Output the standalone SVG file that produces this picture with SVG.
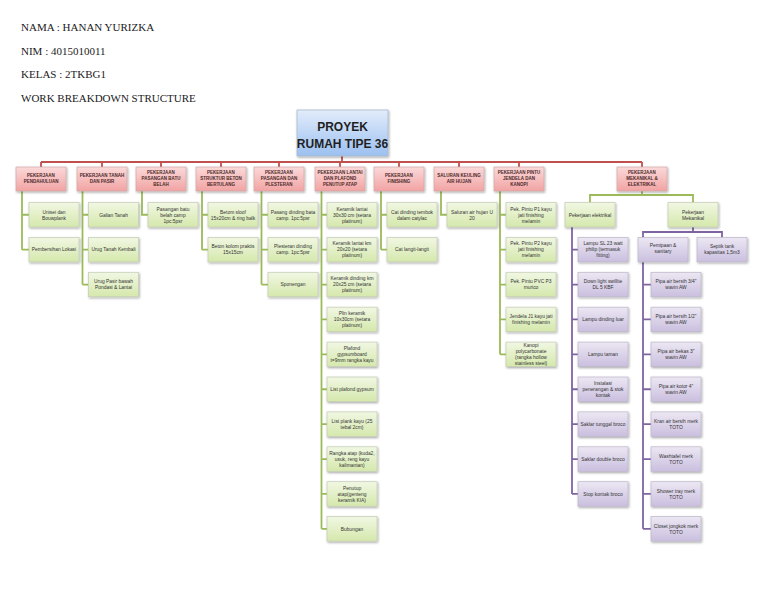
<svg xmlns="http://www.w3.org/2000/svg" width="768" height="594" viewBox="0 0 768 594">
<style>
.hd{font-family:"Liberation Serif","Times New Roman",serif;font-size:11px;fill:#1a1a1a}
.t{font-family:"Liberation Sans",Arial,sans-serif;font-size:4.9px;fill:#333;text-anchor:middle}
.pt{font-family:"Liberation Sans",Arial,sans-serif;font-size:4.5px;font-weight:bold;fill:#4a2a2a;text-anchor:middle}
.top{font-family:"Liberation Sans",Arial,sans-serif;font-size:12px;font-weight:bold;fill:#1f1f1f;text-anchor:middle}
.pk{fill:url(#gp);stroke:#cfa9a9;stroke-width:0.7;filter:url(#sh)}
.gr{fill:url(#gg);stroke:#c4ccb4;stroke-width:0.7;filter:url(#sh)}
.pu{fill:url(#gu);stroke:#bdb6c8;stroke-width:0.7;filter:url(#sh)}
.bl{fill:url(#gb);stroke:#a9b8cc;stroke-width:0.8;filter:url(#sh)}
.lr{fill:none;stroke:#c0504d;stroke-width:1.8}
.lg{fill:none;stroke:#9bbb59;stroke-width:1.8}
.lp{fill:none;stroke:#8064a2;stroke-width:1.8}
</style>
<defs>
<linearGradient id="gp" x1="0" y1="0" x2="0" y2="1"><stop offset="0" stop-color="#fbd9d9"/><stop offset="1" stop-color="#f2a3a3"/></linearGradient>
<linearGradient id="gg" x1="0" y1="0" x2="0" y2="1"><stop offset="0" stop-color="#f1f7e3"/><stop offset="1" stop-color="#d5e8ac"/></linearGradient>
<linearGradient id="gu" x1="0" y1="0" x2="0" y2="1"><stop offset="0" stop-color="#ece7f3"/><stop offset="1" stop-color="#cabfdf"/></linearGradient>
<linearGradient id="gb" x1="0" y1="0" x2="0" y2="1"><stop offset="0" stop-color="#e2ecfb"/><stop offset="1" stop-color="#9cc0f0"/></linearGradient>
<filter id="sh" x="-20%" y="-20%" width="140%" height="150%"><feDropShadow dx="0.8" dy="1.2" stdDeviation="0.8" flood-color="#000" flood-opacity="0.35"/></filter>
</defs>
<rect width="768" height="594" fill="#fff"/>
<g id="header">
<text class="hd" x="21" y="31">NAMA : HANAN YURIZKA</text>
<text class="hd" x="21" y="55">NIM : 4015010011</text>
<text class="hd" x="21" y="78">KELAS : 2TKBG1</text>
<text class="hd" x="21" y="102">WORK BREAKDOWN STRUCTURE</text>
</g>
<g id="connectors">
<path class="lr" d="M342 156V162M41 162H642M41 162V167M102 162V167M161 162V167M221 162V167M279 162V167M340 162V167M399 162V167M459 162V167M519 162V167M642 162V167"/>
<path class="lg" d="M22 191V249.65M22 214.75H29M22 249.65H29"/>
<path class="lg" d="M82.5 191V284.55M82.5 214.75H88.5M82.5 249.65H88.5M82.5 284.55H88.5"/>
<path class="lg" d="M142 191V214.75H148"/>
<path class="lg" d="M202 191V249.65M202 214.75H208M202 249.65H208"/>
<path class="lg" d="M261.5 191V284.55M261.5 214.75H268M261.5 249.65H268M261.5 284.55H268"/>
<path class="lg" d="M321.5 191V528.85M321.5 214.75H327M321.5 249.65H327M321.5 284.55H327M321.5 319.45H327M321.5 354.35H327M321.5 389.25H327M321.5 424.15H327M321.5 459.05H327M321.5 493.95H327M321.5 528.85H327"/>
<path class="lg" d="M381 191V249.65M381 214.75H387M381 249.65H387"/>
<path class="lg" d="M441 191V214.75H447"/>
<path class="lg" d="M500 191V354.35M500 214.75H506M500 249.65H506M500 284.55H506M500 319.45H506M500 354.35H506"/>
<path class="lg" d="M642 191V195M590 202.5V195H693V202.5"/>
<path class="lp" d="M572 227V493.95M572 249.65H578M572 284.55H578M572 319.45H578M572 354.35H578M572 389.25H578M572 424.15H578M572 459.05H578M572 493.95H578"/>
<path class="lp" d="M693 227V232M643 237.4V232H722V237.4"/>
<path class="lp" d="M643 262V528.85M643 284.55H651M643 319.45H651M643 354.35H651M643 389.25H651M643 424.15H651M643 459.05H651M643 493.95H651M643 528.85H651"/>
</g>
<g id="proyek"><rect class="bl" x="297" y="110" width="91" height="46"/><text class="top" x="342.5" y="130.5">PROYEK</text><text class="top" x="342.5" y="147.5">RUMAH TIPE 36</text></g>

<g id="l1-pendahuluan"><rect class="pk" x="16" y="167" width="50" height="24"/><text class="pt" x="41" y="176.8">PEKERJAAN<tspan x="41" dy="5.8">PENDAHULUAN</tspan></text></g>
<g id="l1-tanah"><rect class="pk" x="77" y="167" width="50" height="24"/><text class="pt" x="102" y="176.8">PEKERJAAN TANAH<tspan x="102" dy="5.8">DAN PASIR</tspan></text></g>
<g id="l1-batu"><rect class="pk" x="136" y="167" width="50" height="24"/><text class="pt" x="161" y="174">PEKERJAAN<tspan x="161" dy="6">PASANGAN BATU</tspan><tspan x="161" dy="6">BELAH</tspan></text></g>
<g id="l1-beton"><rect class="pk" x="196" y="167" width="50" height="24"/><text class="pt" x="221" y="174">PEKERJAAN<tspan x="221" dy="6">STRUKTUR BETON</tspan><tspan x="221" dy="6">BERTULANG</tspan></text></g>
<g id="l1-plesteran"><rect class="pk" x="254" y="167" width="50" height="24"/><text class="pt" x="279" y="174">PEKERJAAN<tspan x="279" dy="6">PASANGAN DAN</tspan><tspan x="279" dy="6">PLESTERAN</tspan></text></g>
<g id="l1-lantai"><rect class="pk" x="315" y="167" width="50" height="24"/><text class="pt" x="340" y="174">PEKERJAAN LANTAI<tspan x="340" dy="6">DAN PLAFOND</tspan><tspan x="340" dy="6">PENUTUP ATAP</tspan></text></g>
<g id="l1-finishing"><rect class="pk" x="374" y="167" width="50" height="24"/><text class="pt" x="399" y="176.8">PEKERJAAN<tspan x="399" dy="5.8">FINISHING</tspan></text></g>
<g id="l1-saluran"><rect class="pk" x="434" y="167" width="50" height="24"/><text class="pt" x="459" y="176.8">SALURAN KEULING<tspan x="459" dy="5.8">AIR HUJAN</tspan></text></g>
<g id="l1-pintu"><rect class="pk" x="494" y="167" width="50" height="24"/><text class="pt" x="519" y="174">PEKERJAAN PINTU<tspan x="519" dy="6">JENDELA DAN</tspan><tspan x="519" dy="6">KANOPI</tspan></text></g>
<g id="l1-me"><rect class="pk" x="617" y="167" width="50" height="24"/><text class="pt" x="642" y="174">PEKERJAAN<tspan x="642" dy="6">MEKANIKAL &amp;</tspan><tspan x="642" dy="6">ELEKTRIKAL</tspan></text></g>

<g id="c1-1"><rect class="gr" x="29" y="202.5" width="50" height="24.5"/><text class="t" x="54" y="213.55">Unisei dan<tspan x="54" dy="6">Bouwplank</tspan></text></g>
<g id="c1-2"><rect class="gr" x="29" y="237.4" width="50" height="24.5"/><text class="t" x="54" y="251.45">Pembersihan Lokasi</text></g>

<g id="c2-1"><rect class="gr" x="88.5" y="202.5" width="50" height="24.5"/><text class="t" x="113.5" y="216.55">Galian Tanah</text></g>
<g id="c2-2"><rect class="gr" x="88.5" y="237.4" width="50" height="24.5"/><text class="t" x="113.5" y="251.45">Urug Tanah Kembali</text></g>
<g id="c2-3"><rect class="gr" x="88.5" y="272.3" width="50" height="24.5"/><text class="t" x="113.5" y="283.35">Urug Pasir bawah<tspan x="113.5" dy="6">Pondasi &amp; Lantai</tspan></text></g>

<g id="c3-1"><rect class="gr" x="148" y="202.5" width="50" height="24.5"/><text class="t" x="173" y="210.55">Pasangan batu<tspan x="173" dy="6">belah camp</tspan><tspan x="173" dy="6">1pc:5psr</tspan></text></g>

<g id="c4-1"><rect class="gr" x="208" y="202.5" width="50" height="24.5"/><text class="t" x="233" y="213.55">Betom sloof<tspan x="233" dy="6">15x20cm &amp; ring balk</tspan></text></g>
<g id="c4-2"><rect class="gr" x="208" y="237.4" width="50" height="24.5"/><text class="t" x="233" y="248.45">Beton kolom praktis<tspan x="233" dy="6">15x15cm</tspan></text></g>

<g id="c5-1"><rect class="gr" x="268" y="202.5" width="50" height="24.5"/><text class="t" x="293" y="213.55">Pasang dinding bata<tspan x="293" dy="6">camp. 1pc:5psr</tspan></text></g>
<g id="c5-2"><rect class="gr" x="268" y="237.4" width="50" height="24.5"/><text class="t" x="293" y="248.45">Plesteran dinding<tspan x="293" dy="6">camp. 1pc:5psr</tspan></text></g>
<g id="c5-3"><rect class="gr" x="268" y="272.3" width="50" height="24.5"/><text class="t" x="293" y="286.35">Sponengan</text></g>

<g id="c6-1"><rect class="gr" x="327" y="202.5" width="50" height="24.5"/><text class="t" x="352" y="210.55">Keramik lantai<tspan x="352" dy="6">30x30 cm (setara</tspan><tspan x="352" dy="6">platinum)</tspan></text></g>
<g id="c6-2"><rect class="gr" x="327" y="237.4" width="50" height="24.5"/><text class="t" x="352" y="245.45">Keramik lantai km<tspan x="352" dy="6">20x20 (setara</tspan><tspan x="352" dy="6">platinum)</tspan></text></g>
<g id="c6-3"><rect class="gr" x="327" y="272.3" width="50" height="24.5"/><text class="t" x="352" y="280.35">Keramik dinding km<tspan x="352" dy="6">20x25 cm (setara</tspan><tspan x="352" dy="6">platinum)</tspan></text></g>
<g id="c6-4"><rect class="gr" x="327" y="307.2" width="50" height="24.5"/><text class="t" x="352" y="315.25">Plin keramik<tspan x="352" dy="6">10x30cm (setara</tspan><tspan x="352" dy="6">platinum)</tspan></text></g>
<g id="c6-5"><rect class="gr" x="327" y="342.1" width="50" height="24.5"/><text class="t" x="352" y="350.15">Plafond<tspan x="352" dy="6">gypsumboard</tspan><tspan x="352" dy="6">t=9mm rangka kayu</tspan></text></g>
<g id="c6-6"><rect class="gr" x="327" y="377" width="50" height="24.5"/><text class="t" x="352" y="391.05">List plafond gypsum</text></g>
<g id="c6-7"><rect class="gr" x="327" y="411.9" width="50" height="24.5"/><text class="t" x="352" y="422.95">List plank kayu (25<tspan x="352" dy="6">tebal 2cm)</tspan></text></g>
<g id="c6-8"><rect class="gr" x="327" y="446.8" width="50" height="24.5"/><text class="t" x="352" y="454.85">Rangka atap (kuda2,<tspan x="352" dy="6">usuk, reng kayu</tspan><tspan x="352" dy="6">kalimantan)</tspan></text></g>
<g id="c6-9"><rect class="gr" x="327" y="481.7" width="50" height="24.5"/><text class="t" x="352" y="489.75">Penutup<tspan x="352" dy="6">atap(genteng</tspan><tspan x="352" dy="6">keramik KIA)</tspan></text></g>
<g id="c6-10"><rect class="gr" x="327" y="516.6" width="50" height="24.5"/><text class="t" x="352" y="530.65">Bubungan</text></g>

<g id="c7-1"><rect class="gr" x="387" y="202.5" width="50" height="24.5"/><text class="t" x="412" y="213.55">Cat dinding tembok<tspan x="412" dy="6">dalam catylac</tspan></text></g>
<g id="c7-2"><rect class="gr" x="387" y="237.4" width="50" height="24.5"/><text class="t" x="412" y="251.45">Cat langit-langit</text></g>

<g id="c8-1"><rect class="gr" x="447" y="202.5" width="50" height="24.5"/><text class="t" x="472" y="213.55">Saluran air hujan U<tspan x="472" dy="6">20</tspan></text></g>

<g id="c9-1"><rect class="gr" x="506" y="202.5" width="50" height="24.5"/><text class="t" x="531" y="210.55">Pek. Pintu P1 kayu<tspan x="531" dy="6">jati finishing</tspan><tspan x="531" dy="6">melamin</tspan></text></g>
<g id="c9-2"><rect class="gr" x="506" y="237.4" width="50" height="24.5"/><text class="t" x="531" y="245.45">Pek. Pintu P2 kayu<tspan x="531" dy="6">jati finishing</tspan><tspan x="531" dy="6">melamin</tspan></text></g>
<g id="c9-3"><rect class="gr" x="506" y="272.3" width="50" height="24.5"/><text class="t" x="531" y="283.35">Pek. Pintu PVC P3<tspan x="531" dy="6">murico</tspan></text></g>
<g id="c9-4"><rect class="gr" x="506" y="307.2" width="50" height="24.5"/><text class="t" x="531" y="318.25">Jendela J1 kayu jati<tspan x="531" dy="6">finishing melamin</tspan></text></g>
<g id="c9-5"><rect class="gr" x="506" y="342.1" width="50" height="24.5"/><text class="t" x="531" y="347.15">Kanopi<tspan x="531" dy="6">polycarbonate</tspan><tspan x="531" dy="6">(rangka hollow</tspan><tspan x="531" dy="6">stainless steel)</tspan></text></g>

<g id="me-elektrikal"><rect class="gr" x="565" y="202.5" width="50" height="24.5"/><text class="t" x="590" y="216.55">Pekerjaan elektrikal</text></g>
<g id="me-mekanikal"><rect class="gr" x="668" y="202.5" width="50" height="24.5"/><text class="t" x="693" y="213.55">Pekerjaan<tspan x="693" dy="6">Mekanikal</tspan></text></g>

<g id="el-1"><rect class="pu" x="578" y="237.4" width="50" height="24.5"/><text class="t" x="603" y="245.45">Lampu SL 23 watt<tspan x="603" dy="6">philip (termasuk</tspan><tspan x="603" dy="6">fitting)</tspan></text></g>
<g id="el-2"><rect class="pu" x="578" y="272.3" width="50" height="24.5"/><text class="t" x="603" y="283.35">Down light swillite<tspan x="603" dy="6">DL 5 KBF</tspan></text></g>
<g id="el-3"><rect class="pu" x="578" y="307.2" width="50" height="24.5"/><text class="t" x="603" y="321.25">Lampu dinding luar</text></g>
<g id="el-4"><rect class="pu" x="578" y="342.1" width="50" height="24.5"/><text class="t" x="603" y="356.15">Lampu taman</text></g>
<g id="el-5"><rect class="pu" x="578" y="377" width="50" height="24.5"/><text class="t" x="603" y="385.05">Instalasi<tspan x="603" dy="6">penerangan &amp; stok</tspan><tspan x="603" dy="6">kontak</tspan></text></g>
<g id="el-6"><rect class="pu" x="578" y="411.9" width="50" height="24.5"/><text class="t" x="603" y="425.95">Saklar tunggal broco</text></g>
<g id="el-7"><rect class="pu" x="578" y="446.8" width="50" height="24.5"/><text class="t" x="603" y="460.85">Saklar double broco</text></g>
<g id="el-8"><rect class="pu" x="578" y="481.7" width="50" height="24.5"/><text class="t" x="603" y="495.75">Stop kontak broco</text></g>

<g id="mk-pemipaan"><rect class="pu" x="638" y="237.4" width="50" height="24.5"/><text class="t" x="663" y="246.5">Pemipaan &amp;<tspan x="663" dy="6">sanitary</tspan></text></g>
<g id="mk-septik"><rect class="pu" x="697" y="237.4" width="50" height="24.5"/><text class="t" x="722" y="248.45">Septik tank<tspan x="722" dy="6">kapasitas 1,5m3</tspan></text></g>

<g id="pp-1"><rect class="pu" x="651" y="272.3" width="50" height="24.5"/><text class="t" x="676" y="283.35">Pipa air bersih 3/4"<tspan x="676" dy="6">wavin AW</tspan></text></g>
<g id="pp-2"><rect class="pu" x="651" y="307.2" width="50" height="24.5"/><text class="t" x="676" y="318.25">Pipa air bersih 1/2"<tspan x="676" dy="6">wavin AW</tspan></text></g>
<g id="pp-3"><rect class="pu" x="651" y="342.1" width="50" height="24.5"/><text class="t" x="676" y="353.15">Pipa air bekas 3"<tspan x="676" dy="6">wavin AW</tspan></text></g>
<g id="pp-4"><rect class="pu" x="651" y="377" width="50" height="24.5"/><text class="t" x="676" y="388.05">Pipa air kotor 4"<tspan x="676" dy="6">wavin AW</tspan></text></g>
<g id="pp-5"><rect class="pu" x="651" y="411.9" width="50" height="24.5"/><text class="t" x="676" y="422.95">Kran air bersih merk<tspan x="676" dy="6">TOTO</tspan></text></g>
<g id="pp-6"><rect class="pu" x="651" y="446.8" width="50" height="24.5"/><text class="t" x="676" y="457.85">Washtafel merk<tspan x="676" dy="6">TOTO</tspan></text></g>
<g id="pp-7"><rect class="pu" x="651" y="481.7" width="50" height="24.5"/><text class="t" x="676" y="492.75">Shower tray merk<tspan x="676" dy="6">TOTO</tspan></text></g>
<g id="pp-8"><rect class="pu" x="651" y="516.6" width="50" height="24.5"/><text class="t" x="676" y="527.65">Closet jongkok merk<tspan x="676" dy="6">TOTO</tspan></text></g>
</svg>
